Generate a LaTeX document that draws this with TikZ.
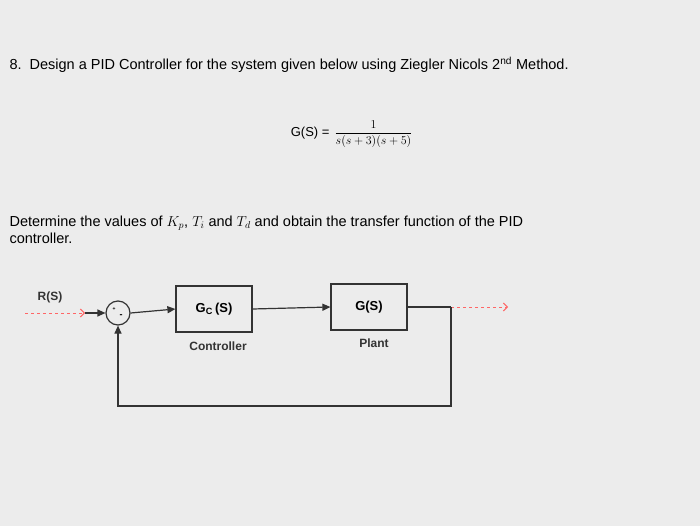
\documentclass[tikz,border=0pt]{standalone}
\usepackage{fontspec}
\setmainfont{Liberation Sans}
\usetikzlibrary{arrows.meta}
\begin{document}
\begin{tikzpicture}[x=1pt,y=-1pt,
  blk/.style={draw=black!80,line width=1.2pt,minimum width=76pt,minimum height=46pt,font=\fontsize{13}{15}\selectfont\bfseries},
  lbl/.style={font=\fontsize{12}{14}\selectfont\bfseries,text=black!80},
  wire/.style={draw=black!80,line width=1.2pt},
  arr/.style={wire,-{Triangle[length=8pt,width=7pt]}},
  red/.style={draw=red!60,dashed,line width=1pt}]
\fill[gray!15] (0,0) rectangle (700,526);
\useasboundingbox (0,0) rectangle (700,526);
\node[anchor=west,font=\fontsize{14.5}{17}\selectfont] (title) at (6,65) {8.\ \ Design a PID Controller for the system given below using Ziegler Nicols 2\textsuperscript{nd} Method.};
\node[anchor=east,font=\fontsize{13}{15}\selectfont] (geq) at (333,133) {G(S) =};
\node[anchor=west,font=\fontsize{13}{15}\selectfont\bfseries] (frac) at (331,134) {$\displaystyle\frac{1}{s(s+3)(s+5)}$};
\node[anchor=west,font=\fontsize{14.5}{17}\selectfont,align=left] (det) at (6,230) {Determine the values of $K_p$, $T_i$ and $T_d$ and obtain the transfer function of the PID\\controller.};
\node[draw=black!80,line width=1.2pt,circle,minimum size=24pt,inner sep=0pt] (sum) at (118,313) {};
\node[font=\tiny\bfseries] at (114,309) {+};
\node[font=\small\bfseries] at (121,316) {-};
\node[blk] (gc) at (214,309) {G\textsubscript{C}\,(S)};
\node[blk] (g) at (369,307) {G(S)};
\node[lbl] (ctl) at (218,346) {Controller};
\node[lbl] (plant) at (374,343) {Plant};
\node[lbl] (rs) at (50,297) {R(S)};
\coordinate (in) at (25,313);
\coordinate (inr) at (85,313);
\coordinate (br) at (451,307);
\coordinate (out) at (508,307);
\coordinate (fb1) at (451,406);
\coordinate (fb2) at (118,406);
\draw[red,-{Straight Barb[length=4pt]}] (in) -- (inr);
\draw[arr] (inr) -- (sum.west);
\draw[arr] (sum.east) -- (gc.west);
\draw[arr] (gc.east) -- (g.west);
\draw[wire] (g.east) -- (br);
\draw[red,-{Straight Barb[length=4pt]}] (br) -- (out);
\draw[arr] (br) -- (fb1) -- (fb2) -- (sum.south);
\end{tikzpicture}
\end{document}
